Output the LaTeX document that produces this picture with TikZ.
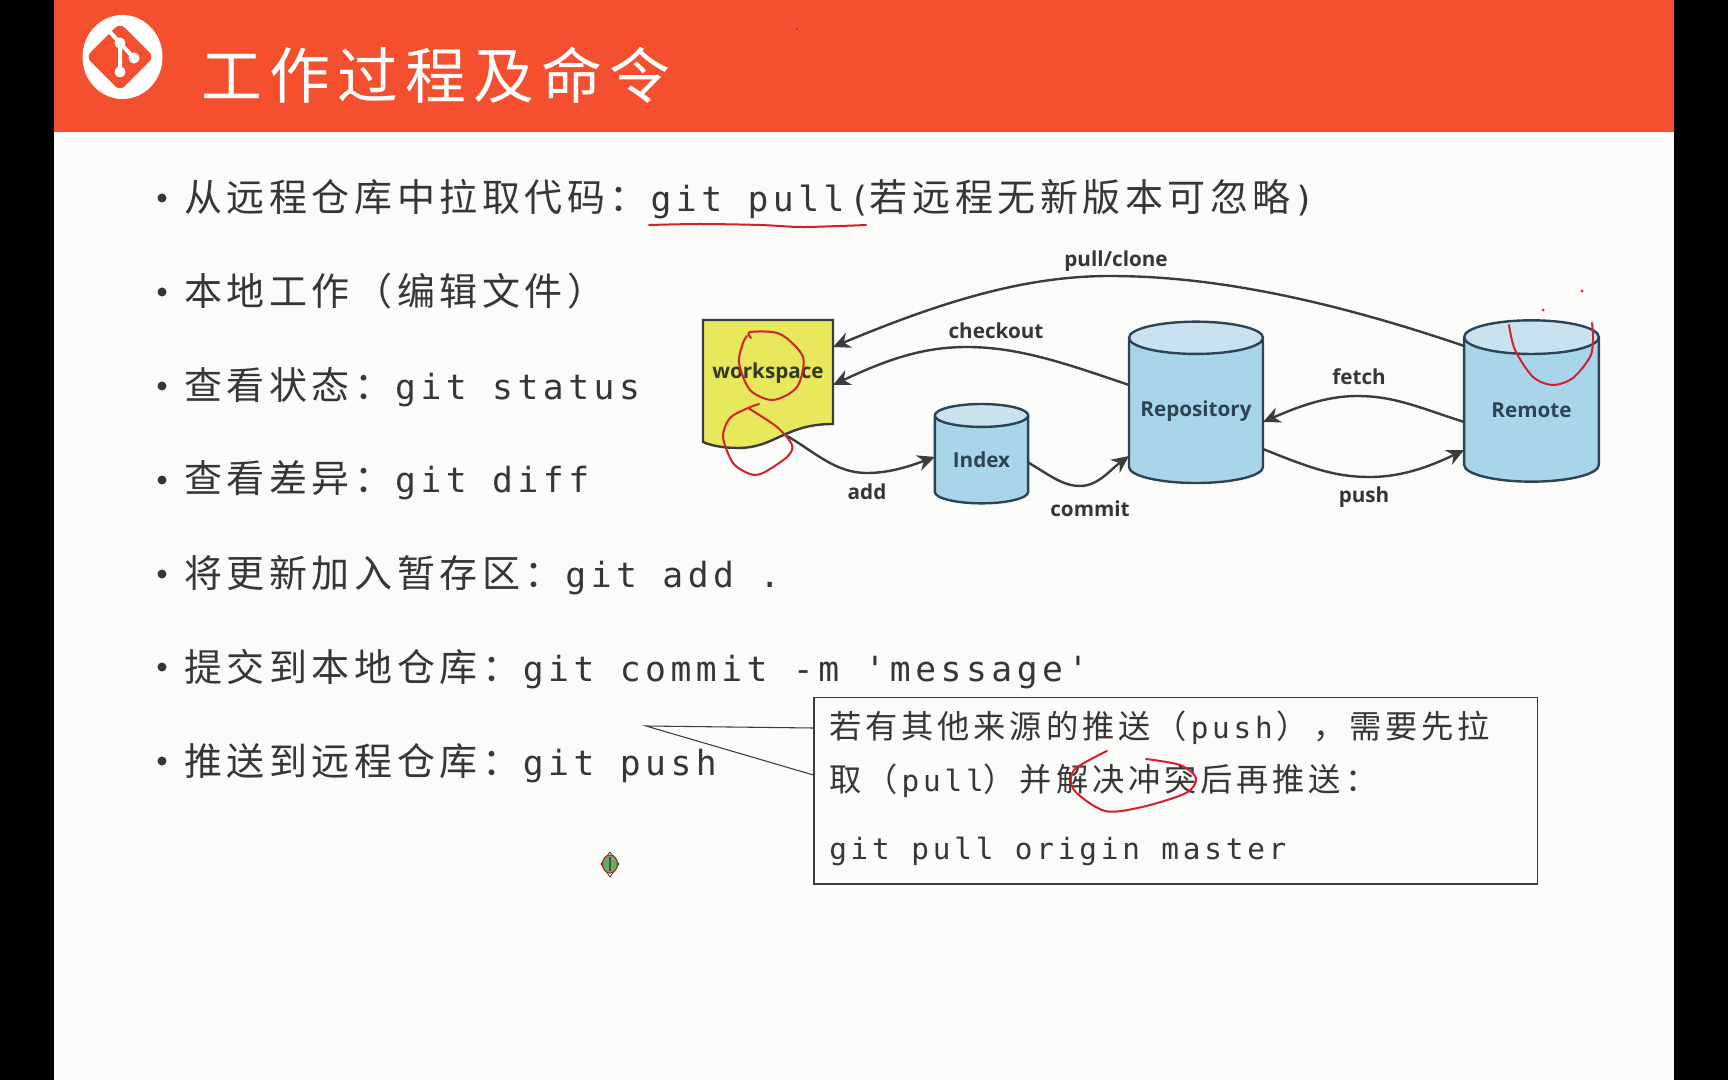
\documentclass[tikz,border=0pt]{standalone}
\usepackage{fontspec}
\usepackage{xcolor}
\setsansfont{Open Sans}
\setmonofont[LetterSpace=13]{DejaVu Sans Mono}
\newfontfamily\cn[LetterSpace=12]{Noto Sans CJK SC}
\usetikzlibrary{arrows.meta,positioning,calc,shapes.geometric}
\definecolor{slidered}{HTML}{F4502F}
\definecolor{slidebg}{HTML}{FBFBF9}
\definecolor{inktext}{HTML}{363636}
\definecolor{inkline}{HTML}{3C3C3C}
\definecolor{inkblue}{HTML}{2C4454}
\definecolor{bodyblue}{HTML}{A9D5EA}
\definecolor{topblue}{HTML}{C9E2F0}
\definecolor{notered}{HTML}{D2202C}
\newcommand{\cnt}{\fontsize{28.5pt}{34pt}\cn}
\newcommand{\mnt}{\fontsize{26pt}{30pt}\ttfamily\kern2pt}
\newcommand{\cnb}{\fontsize{24.2pt}{30pt}\cn}
\newcommand{\mnb}{\fontsize{22pt}{26pt}\ttfamily\kern3pt}
\tikzset{rowtext/.style={anchor=base west, inner sep=0pt, text=inktext},
	store/.style={cylinder, shape border rotate=90, draw=inkblue, line width=1.8pt, cylinder uses custom fill, cylinder body fill=bodyblue, cylinder end fill=topblue, inner sep=0pt, outer sep=0pt, text=inkblue, font=\sffamily\bfseries\fontsize{15.5pt}{18pt}\selectfont},
	link/.style={draw=inkline, line width=1.8pt, -{Stealth[length=13pt,width=12pt]}},
	linklabel/.style={inner sep=0pt, text=inktext, font=\sffamily\bfseries\fontsize{15.5pt}{18pt}\selectfont},
	pen/.style={draw=notered, line width=1.5pt, line cap=round, line join=round}}

\begin{document}
\begin{tikzpicture}[x=0.75pt,y=-0.75pt]
	\useasboundingbox (0,0) rectangle (1728,1080);
	\fill [black] (0,0) rectangle (1728,1080);
	\fill [slidebg] (54,0) rectangle (1674,1080);
	\fill [slidered] (54,0) rectangle (1674,132);

	\fill [white] (122.5,57) ellipse [x radius=40,y radius=42];
	\fill [slidered,rounded corners=5pt] (120,23) -- (154,57) -- (120,91) -- (86,57) -- cycle;
	\draw [white,line width=3pt] (110,32) -- (120,43) -- (120,72);
	\draw [white,line width=3pt] (120,43) -- (134,58);
	\fill [white] (120,43) circle (5.5);
	\fill [white] (120,72) circle (5.5);
	\fill [white] (134,58) circle (5.5);
	\node [anchor=base west,inner sep=0pt,text=white,font=\fontsize{45.6pt}{50pt}\selectfont] (title) at (201,99) {\cn 工作过程及命令};

	\fill [inktext] (162,198) circle (4.5);
	\fill [inktext] (162,292) circle (4.5);
	\fill [inktext] (162,386) circle (4.5);
	\fill [inktext] (162,480) circle (4.5);
	\fill [inktext] (162,574) circle (4.5);
	\fill [inktext] (162,667) circle (4.5);
	\fill [inktext] (162,761) circle (4.5);
	\node [rowtext] (pullrow) at (184,212) {\cnt 从远程仓库中拉取代码：\mnt git pull(\cnt 若远程无新版本可忽略\mnt )};
	\node [rowtext] (editrow) at (184,306) {\cnt 本地工作（编辑文件）};
	\node [rowtext] (statusrow) at (184,400) {\cnt 查看状态：\mnt git status};
	\node [rowtext] (diffrow) at (184,493) {\cnt 查看差异：\mnt git diff};
	\node [rowtext] (addrow) at (184,587) {\cnt 将更新加入暂存区：\mnt git add .};
	\node [rowtext] (commitrow) at (184,681) {\cnt 提交到本地仓库：\mnt git commit -m 'message'};
	\node [rowtext] (pushrow) at (184,775) {\cnt 推送到远程仓库：\mnt git push};

	\draw [draw=inkline,line width=1.8pt,fill={rgb,255:red,232;green,232;blue,92}] (703,320) -- (833,320) -- (833,424) .. controls (785,424) and (775,448) .. (738,448) .. controls (725,448) and (712,446) .. (703,442) -- cycle;
	\node [inner sep=0pt,outer sep=0pt,minimum width=97.5pt,minimum height=78pt,text={rgb,255:red,52;green,56;blue,32},font=\sffamily\bfseries\fontsize{15.5pt}{18pt}\selectfont] (workspace) at (768,373) {workspace};
	\node [store,minimum width=70pt,minimum height=74.5pt,aspect=0.40] (index) at (981.5,460) {Index};
	\node [store,minimum width=100.5pt,minimum height=121pt,aspect=0.29] (repository) at (1196,411) {Repository};
	\node [store,minimum width=101pt,minimum height=121pt,aspect=0.42] (remote) at (1531.5,410) {Remote};

	\draw [link] ($(remote.west)+(0,-64)$) .. controls (1300,290) and (1190,276) .. (1110,276) .. controls (1030,276) and (950,298) .. ($(workspace.east)+(0,-26)$);
	\draw [link] ($(repository.west)+(0,-26)$) .. controls (1070,365) and (1020,347) .. (967,347) .. controls (925,347) and (890,358) .. ($(workspace.east)+(0,12)$);
	\draw [link] ($(remote.west)+(0,12)$) .. controls (1420,408) and (1395,396) .. (1357,396) .. controls (1325,396) and (1295,408) .. ($(repository.east)+(0,11)$);
	\draw [link] ($(repository.east)+(0,38)$) .. controls (1310,468) and (1335,477) .. (1370,477) .. controls (1405,477) and (1435,464) .. ($(remote.west)+(0,40)$);
	\draw [link] ($(workspace.south)+(19,11)$) .. controls (815,452) and (835,473) .. (867,473) .. controls (890,473) and (910,466) .. ($(index.west)+(0,-3)$);
	\draw [link] ($(index.east)+(0,2.5)$) .. controls (1048,474) and (1062,486) .. (1080,486) .. controls (1098,486) and (1110,470) .. ($(repository.west)+(0,45)$);

	\node [linklabel] (pulllabel) at (1116,261) {pull/clone};
	\node [linklabel] (checkoutlabel) at (996,331) {checkout};
	\node [linklabel] (addlabel) at (867,492) {add};
	\node [linklabel] (commitlabel) at (1090,509) {commit};
	\node [linklabel] (fetchlabel) at (1359,377) {fetch};
	\node [linklabel] (pushlabel) at (1364,497) {push};

	\node [draw=inkline,line width=0.8pt,inner sep=0pt,minimum width=542.6pt,minimum height=140.2pt] (callout) at (1175.7,790.5) {};
	\coordinate (tip) at (646,726);
	\draw [inkline,line width=0.8pt] ($(callout.west)+(0,-62.5)$) -- (tip) -- ($(callout.west)+(0,-15.5)$);
	\node [rowtext] (calloutone) at (829,738) {\cnb 若有其他来源的推送（\mnb push\kern3pt\cnb ），需要先拉};
	\node [rowtext] (callouttwo) at (829,791) {\cnb 取（\mnb pull\cnb ）并解决冲突后再推送：};
	\node [rowtext] (calloutthree) at (825,859) {\mnb git pull origin master};

	\draw [pen] plot [smooth] coordinates {(649,225) (700,224) (760,225) (800,227) (840,226) (866,225)};
	\draw [pen] plot [smooth] coordinates {(751,338) (750,332) (780,334) (803,357) (797,387) (773,400) (750,390) (739,363) (743,343) (747,336)};
	\draw [pen] plot [smooth] coordinates {(759,404) (748,408) (730,418) (723,437) (733,463) (750,474) (763,473) (787,457) (792,445) (777,427) (748,408)};
	\draw [pen] plot [smooth] coordinates {(1509,325) (1515,350) (1533,377) (1553,385) (1573,378) (1590,357) (1593,340) (1592,323)};
	\draw [pen] plot [smooth] coordinates {(1107,751) (1074,770) (1074,790) (1105,811) (1142,807) (1186,793) (1196,778) (1180,765) (1146,759)};
	\fill [notered] (1543,310) circle (1.5);
	\fill [notered] (1582,291) circle (1.5);
	\fill [notered] (797,29) circle (1.2);

	\draw [black,line width=0.4pt,fill=white] (610,852) -- (619,864) -- (610,877) -- (601,864) -- cycle;
	\draw [draw={rgb,255:red,170;green,50;blue,40},line width=0.9pt,fill={rgb,255:red,106;green,170;blue,106}] (610,864) ellipse [x radius=7.5,y radius=9];
	\fill [black!70] (609,857) rectangle (611,871);
\end{tikzpicture}
\end{document}
